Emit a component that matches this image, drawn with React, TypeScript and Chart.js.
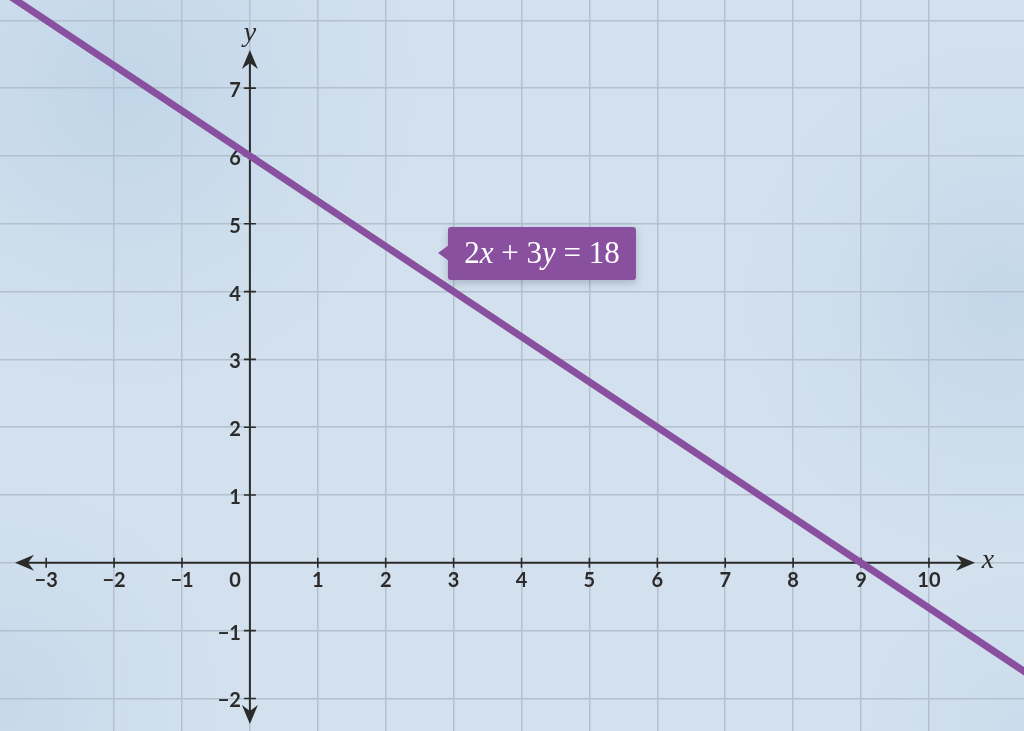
import { useEffect, useRef } from "react";
import { Chart, registerables } from "chart.js";

Chart.register(...registerables);

// visible window of the plane
const X_MIN = -3.68;
const X_MAX = 11.4;
const Y_MIN = -2.48;
const Y_MAX = 8.3;

// tick labels along the axes
const xTicks = [-3, -2, -1, 1, 2, 3, 4, 5, 6, 7, 8, 9, 10];
const yTicks = [-2, -1, 1, 2, 3, 4, 5, 6, 7];

// 2x + 3y = 18, two points beyond the window
const lineX = [-4, 12];
const lineY = [8.667, -2];

// where the label's pointer touches
const labelAt = [2.77, 4.57];
const labelParts = [
  { t: "2", i: false },
  { t: "x", i: true },
  { t: " + ", i: false },
  { t: "3", i: false },
  { t: "y", i: true },
  { t: " = ", i: false },
  { t: "18", i: false },
];

const PURPLE = "#8a50a0";
const INK = "#2b2b2b";

const fmt = (v: number) => (v < 0 ? "\u2212" + Math.abs(v) : String(v));

const onlyIntegers = (scale: any) => {
  scale.ticks = scale.ticks.filter((t: any) => Number.isInteger(t.value));
};

const backdrop = {
  id: "backdrop",
  beforeDraw(chart: any) {
    const { ctx, width, height } = chart;
    ctx.save();
    ctx.fillStyle = "#d3e1ee";
    ctx.fillRect(0, 0, width, height);
    const blot = (x: number, y: number, r: number, c: string) => {
      const g = ctx.createRadialGradient(x, y, 0, x, y, r);
      g.addColorStop(0, c);
      g.addColorStop(1, "rgba(196,216,234,0)");
      ctx.fillStyle = g;
      ctx.fillRect(0, 0, width, height);
    };
    blot(120, 90, 300, "rgba(192,213,232,0.95)");
    blot(1000, 300, 260, "rgba(194,214,233,0.9)");
    blot(0, 700, 220, "rgba(194,214,233,0.8)");
    blot(1024, 731, 160, "rgba(196,216,234,0.6)");
    ctx.restore();
  },
};

const arrow = (ctx: any, tx: number, ty: number, dx: number, dy: number) => {
  const len = 19;
  const half = 8;
  const notch = 6;
  const bx = tx - dx * len;
  const by = ty - dy * len;
  const px = -dy;
  const py = dx;
  ctx.beginPath();
  ctx.moveTo(tx, ty);
  ctx.lineTo(bx + px * half, by + py * half);
  ctx.lineTo(tx - dx * (len - notch), ty - dy * (len - notch));
  ctx.lineTo(bx - px * half, by - py * half);
  ctx.closePath();
  ctx.fill();
};

const axes = {
  id: "axes",
  beforeDatasetsDraw(chart: any) {
    const { ctx, chartArea, scales } = chart;
    const x0 = scales.x.getPixelForValue(0);
    const y0 = scales.y.getPixelForValue(0);
    const left = chartArea.left + 15;
    const right = chartArea.right - 49;
    const top = chartArea.top + 50;
    const bottom = chartArea.bottom - 7;
    ctx.save();
    ctx.strokeStyle = INK;
    ctx.fillStyle = INK;
    ctx.lineWidth = 2;
    ctx.beginPath();
    ctx.moveTo(left + 6, y0);
    ctx.lineTo(right - 6, y0);
    ctx.moveTo(x0, top + 6);
    ctx.lineTo(x0, bottom - 6);
    ctx.stroke();
    arrow(ctx, right, y0, 1, 0);
    arrow(ctx, left, y0, -1, 0);
    arrow(ctx, x0, top, 0, -1);
    arrow(ctx, x0, bottom, 0, 1);

    ctx.lineWidth = 1.6;
    ctx.beginPath();
    xTicks.forEach((v) => {
      const p = scales.x.getPixelForValue(v);
      ctx.moveTo(p, y0 - 5);
      ctx.lineTo(p, y0 + 5);
    });
    yTicks.forEach((v) => {
      const p = scales.y.getPixelForValue(v);
      ctx.moveTo(x0 - 6, p);
      ctx.lineTo(x0 + 6, p);
    });
    ctx.stroke();

    ctx.font = "bold 20px Lato, 'Open Sans', sans-serif";
    ctx.textBaseline = "middle";
    ctx.textAlign = "center";
    xTicks.forEach((v) => {
      ctx.fillText(fmt(v), scales.x.getPixelForValue(v), y0 + 18);
    });
    ctx.textAlign = "right";
    ctx.fillText("0", x0 - 9, y0 + 18);
    yTicks.forEach((v) => {
      ctx.fillText(fmt(v), x0 - 9, scales.y.getPixelForValue(v) + 2.5);
    });

    ctx.font = "italic 28px 'Liberation Serif', 'DejaVu Serif', serif";
    ctx.textAlign = "center";
    ctx.fillText("x", right + 13, y0 - 2);
    ctx.fillText("y", x0, top - 16);
    ctx.restore();
  },
};

const eqLabel = {
  id: "eqLabel",
  afterDatasetsDraw(chart: any) {
    const { ctx, scales } = chart;
    const ax = scales.x.getPixelForValue(labelAt[0]);
    const ay = scales.y.getPixelForValue(labelAt[1]);
    const bx = ax + 10;
    const bw = 188;
    const bh = 53;
    const by = ay - 26;
    ctx.save();
    ctx.shadowColor = "rgba(40,40,70,0.25)";
    ctx.shadowBlur = 8;
    ctx.shadowOffsetY = 3;
    ctx.fillStyle = PURPLE;
    ctx.beginPath();
    ctx.roundRect(bx, by, bw, bh, 3);
    ctx.fill();
    ctx.shadowColor = "transparent";
    ctx.beginPath();
    ctx.moveTo(ax, ay);
    ctx.lineTo(bx + 1, ay - 8);
    ctx.lineTo(bx + 1, ay + 8);
    ctx.closePath();
    ctx.fill();

    const fontOf = (i: boolean) =>
      (i ? "italic " : "") + "31px 'Liberation Serif', 'DejaVu Serif', serif";
    let total = 0;
    labelParts.forEach((p) => {
      ctx.font = fontOf(p.i);
      total += ctx.measureText(p.t).width;
    });
    let cx = bx + bw / 2 - total / 2;
    ctx.fillStyle = "#ffffff";
    ctx.textBaseline = "middle";
    ctx.textAlign = "left";
    labelParts.forEach((p) => {
      ctx.font = fontOf(p.i);
      ctx.fillText(p.t, cx, by + bh / 2 + 1);
      cx += ctx.measureText(p.t).width;
    });
    ctx.restore();
  },
};

const gridScale = (min: number, max: number) => ({
  type: "linear" as const,
  min,
  max,
  afterBuildTicks: onlyIntegers,
  ticks: { display: false, stepSize: 1 },
  grid: { color: "#b4c0cd", lineWidth: 1.5, drawTicks: false },
  border: { display: false },
});

const App = () => {
  const chartRef = useRef<HTMLCanvasElement>(null);

  useEffect(() => {
    const ctx = chartRef.current!.getContext("2d")!;
    const myChart = new Chart(ctx, {
      type: "scatter",
      data: {
        datasets: [
          {
            label: "2x + 3y = 18",
            data: lineX.map((x, i) => ({ x, y: lineY[i] })),
            showLine: true,
            borderColor: PURPLE,
            borderWidth: 7,
            pointRadius: 0,
          },
        ],
      },
      options: {
        responsive: true,
        maintainAspectRatio: false,
        animation: false,
        layout: { padding: 0 },
        plugins: {
          legend: { display: false },
          tooltip: { enabled: false },
        },
        scales: {
          x: gridScale(X_MIN, X_MAX),
          y: gridScale(Y_MIN, Y_MAX),
        },
      },
      plugins: [backdrop, axes, eqLabel],
    });

    return () => {
      myChart.destroy();
    };
  }, []);

  return (
    <div style={{ position: "fixed", left: 0, top: 0, width: "100vw", height: "100vh" }}>
      <canvas ref={chartRef} />
    </div>
  );
};

export default App;
